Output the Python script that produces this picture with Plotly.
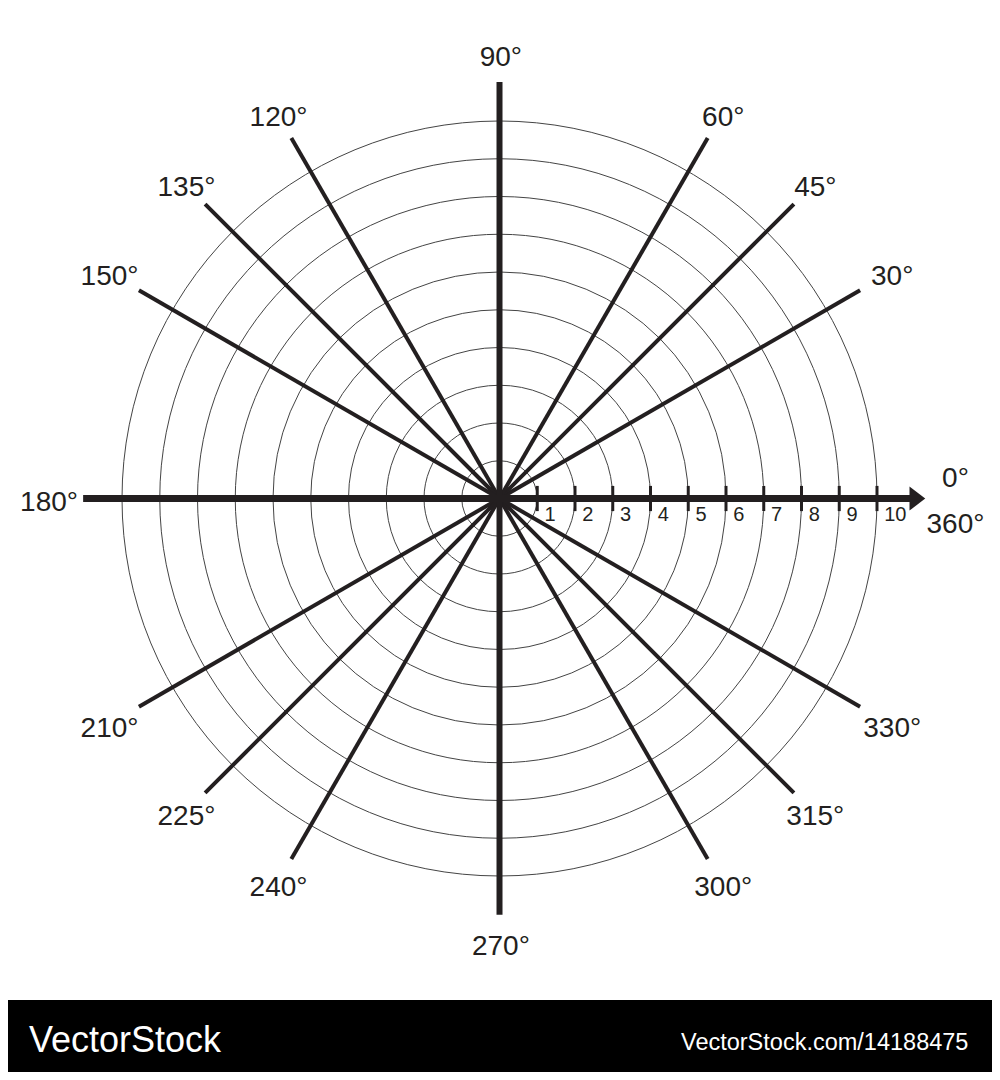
import plotly.graph_objects as go

# grid data
ring_radii = [1, 2, 3, 4, 5, 6, 7, 8, 9, 10]
tick_labels = ['1', '2', '3', '4', '5', '6', '7', '8', '9', '10']

thin_angles = [30, 45, 60, 120, 135, 150, 210, 225, 240, 300, 315, 330]
label_angles = [30, 45, 60, 90, 120, 135, 150, 180, 210, 225, 240, 270, 300, 315, 330]
angle_labels = ['30°', '45°', '60°', '90°', '120°', '135°', '150°', '180°',
                '210°', '225°', '240°', '270°', '300°', '315°', '330°']
zero_labels = ['0°', '360°']

INK = '#231f20'
FONT = 'Arial, Liberation Sans, sans-serif'
SPOKE_R = 11.03   # spokes run a bit past the outer ring
ARROW_R = 11.0
LABEL_R = 11.78       # labels near the vertical
LABEL_R_SIDE = 11.97  # labels near the horizontal sit a bit further out
SIDE_ANGLES = [30, 150, 180, 210, 330]
ZERO_R = 12.08
R_MAX = 12.6

# page has an 8px body margin, keep the figure inside the window
W, H = 984, 1064

fig = go.Figure()

# thin spokes, one segment each
r_thin, t_thin = [], []
for a in thin_angles:
    r_thin += [0, SPOKE_R, None]
    t_thin += [a, a, None]
fig.add_trace(go.Scatterpolar(r=r_thin, theta=t_thin, mode='lines',
                              line=dict(color=INK, width=4), hoverinfo='skip'))

# vertical axis 90 / 270
fig.add_trace(go.Scatterpolar(r=[SPOKE_R, 0, SPOKE_R], theta=[90, 90, 270], mode='lines',
                              line=dict(color=INK, width=6), hoverinfo='skip'))

# horizontal axis 180 -> 0 with arrow head
fig.add_trace(go.Scatterpolar(r=[SPOKE_R, 0, ARROW_R], theta=[180, 180, 0], mode='lines',
                              line=dict(color=INK, width=7), hoverinfo='skip'))
fig.add_trace(go.Scatterpolar(r=[ARROW_R], theta=[0], mode='markers',
                              marker=dict(symbol='triangle-right', size=21, color=INK),
                              hoverinfo='skip'))

# tick marks along 0°
fig.add_trace(go.Scatterpolar(r=ring_radii, theta=[0] * len(ring_radii), mode='markers',
                              marker=dict(symbol='line-ns', size=18,
                                          line=dict(color=INK, width=3)),
                              hoverinfo='skip'))
# tick numbers (invisible markers only set the text offset)
fig.add_trace(go.Scatterpolar(r=ring_radii, theta=[0] * len(ring_radii), mode='markers+text',
                              marker=dict(size=10, color='rgba(0,0,0,0)'),
                              text=tick_labels, textposition='bottom right',
                              textfont=dict(family=FONT, size=20, color=INK),
                              cliponaxis=False, hoverinfo='skip'))

# 0° / 360° on the arrow end
fig.add_trace(go.Scatterpolar(r=[ZERO_R], theta=[0], mode='markers+text',
                              marker=dict(size=6, color='rgba(0,0,0,0)'),
                              text=[zero_labels[0]], textposition='top center',
                              textfont=dict(family=FONT, size=28, color=INK),
                              cliponaxis=False, hoverinfo='skip'))
fig.add_trace(go.Scatterpolar(r=[ZERO_R], theta=[0], mode='markers+text',
                              marker=dict(size=20, color='rgba(0,0,0,0)'),
                              text=[zero_labels[1]], textposition='bottom center',
                              textfont=dict(family=FONT, size=28, color=INK),
                              cliponaxis=False, hoverinfo='skip'))

# angle labels sit on a ring whose centre is nudged slightly down/right
label_r = [LABEL_R_SIDE if a in SIDE_ANGLES else LABEL_R for a in label_angles]
fig.add_trace(go.Scatterpolar(r=label_r, theta=label_angles, mode='text',
                              text=angle_labels, textposition='middle center',
                              textfont=dict(family=FONT, size=28, color=INK),
                              cliponaxis=False, hoverinfo='skip', subplot='polar2'))

fig.update_layout(
    width=W, height=H,
    margin=dict(l=0, r=0, t=0, b=0),
    paper_bgcolor='white',
    showlegend=False,
    polar=dict(
        domain=dict(x=[0.01611, 0.98288], y=[0.09197, 0.98604]),
        bgcolor='white',
        radialaxis=dict(range=[0, R_MAX], tickvals=ring_radii, showticklabels=False,
                        showline=False, ticks='', gridcolor='#444', gridwidth=1),
        angularaxis=dict(showgrid=False, showticklabels=False, showline=False, ticks=''),
    ),
    polar2=dict(
        domain=dict(x=[0.01753, 0.98430], y=[0.08708, 0.98116]),
        bgcolor='rgba(0,0,0,0)',
        radialaxis=dict(range=[0, R_MAX], visible=False),
        angularaxis=dict(visible=False),
    ),
    shapes=[dict(type='rect', xref='paper', yref='paper', x0=0, x1=1, y0=0, y1=72 / H,
                 fillcolor='black', line=dict(width=0), layer='above')],
    annotations=[
        dict(text='VectorStock', xref='paper', yref='paper', x=19 / W, y=33 / H,
             xanchor='left', yanchor='middle', showarrow=False,
             font=dict(family=FONT, size=36, color='white')),
        dict(text='VectorStock.com/14188475', xref='paper', yref='paper', x=962 / W, y=30 / H,
             xanchor='right', yanchor='middle', showarrow=False,
             font=dict(family=FONT, size=23.5, color='white')),
    ],
)

fig.write_html('out.html')
